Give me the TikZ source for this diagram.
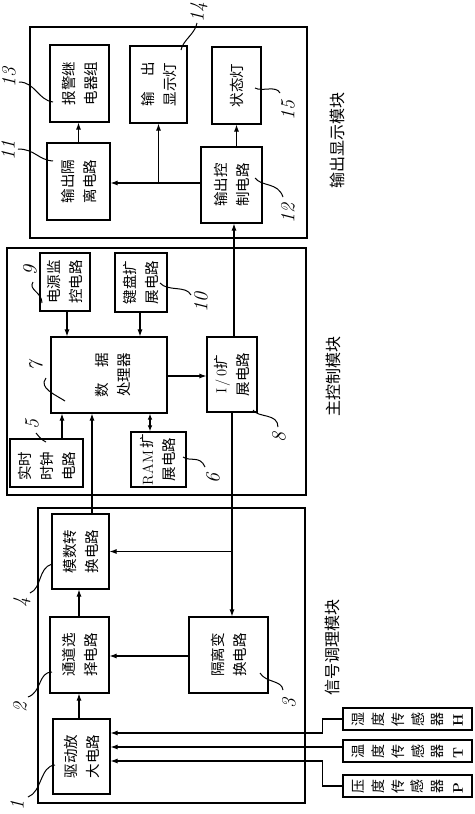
\documentclass[tikz,border=0pt]{standalone}
\usepackage{fontspec}
\newfontfamily\cjk{Noto Sans CJK SC}
\usetikzlibrary{arrows.meta}
\begin{document}
\begin{tikzpicture}[x=1pt,y=-1pt,
  frame/.style={draw,line width=1.1pt,inner sep=0pt},
  box/.style={draw,line width=1.1pt,inner sep=0pt},
  lbl/.style={rotate=90,align=center,font=\cjk\fontsize{14.5}{22}\selectfont,inner sep=0pt},
  mlbl/.style={rotate=90,font=\cjk\fontsize{16}{18}\selectfont,inner sep=0pt},
  num/.style={rotate=90,font=\itshape\fontsize{20}{20}\selectfont,inner sep=0pt},
  arr/.style={line width=1.1pt,-{Latex[length=7pt,width=5pt]}},
  darr/.style={line width=1.1pt,{Latex[length=6pt,width=4.5pt]}-{Latex[length=6pt,width=4.5pt]}},
  lead/.style={line width=1pt},
  sens/.style={draw,line width=1.1pt,inner sep=0pt,minimum width=129pt,minimum height=22pt,font=\cjk\fontsize{14}{14}\selectfont}
]
\useasboundingbox (0,0) rectangle (474,814);
% ---------- output display module ----------
\node[frame,minimum width=277pt,minimum height=211pt] (mOut) at (168.5,132.5) {};
\node[box,minimum width=59pt,minimum height=77pt] (b13) at (79.5,83.5) {};
\node[lbl] (t13) at (b13) {报警继\\电器组};
\node[box,minimum width=57pt,minimum height=77pt] (b14) at (158.5,84.5) {};
\node[lbl] (t14) at (b14) {输\hspace{1.1em}出\\显示灯};
\node[box,minimum width=49pt,minimum height=77pt] (b15) at (236.5,85.5) {};
\node[lbl] (t15) at (b15) {状态灯};
\node[box,minimum width=63pt,minimum height=77pt] (b11) at (78.5,181.5) {};
\node[lbl] (t11) at (b11) {输出隔\\离电路};
\node[box,minimum width=61pt,minimum height=76pt] (b12) at (231.5,185) {};
\node[lbl] (t12) at (b12) {输出控\\制电路};
\node[mlbl] (m1) at (337,140) {输出显示模块};
% ---------- main control module ----------
\node[frame,minimum width=299pt,minimum height=247pt] (mMain) at (156.5,371.5) {};
\node[box,minimum width=50pt,minimum height=58pt] (b9) at (65,282) {};
\node[lbl] (t9) at (b9) {电源监\\控电路};
\node[box,minimum width=52pt,minimum height=59pt] (b10) at (141,282.5) {};
\node[lbl] (t10) at (b10) {键盘扩\\展电路};
\node[box,minimum width=116pt,minimum height=76pt] (b7) at (109,375) {};
\node[lbl] (t7) at ([xshift=4pt]b7.center) {数\hspace{1.1em}据\\处理器};
\node[box,minimum width=50pt,minimum height=75pt] (b8) at (232,374.5) {};
\node[lbl] (t8) at (b8) {{\rmfamily I\,/\,0}扩\\展电路};
\node[box,minimum width=73pt,minimum height=48pt] (b5) at (46.5,463) {};
\node[lbl] (t5) at ([yshift=-3pt]b5.center) {实时\\时钟\\电路};
\node[box,minimum width=55pt,minimum height=55pt] (b6) at (158.5,459.5) {};
\node[lbl] (t6) at (b6) {{\rmfamily RAM}\,扩\\展电路};
\node[mlbl] (m2) at (333,376) {主控制模块};
% ---------- signal conditioning module ----------
\node[frame,minimum width=267pt,minimum height=295pt] (mSig) at (171.5,655.5) {};
\node[box,minimum width=57pt,minimum height=75pt] (b4) at (80.5,551.5) {};
\node[lbl] (t4) at (b4) {模数转\\换电路};
\node[box,minimum width=59pt,minimum height=76pt] (b2) at (79.5,655) {};
\node[lbl] (t2) at (b2) {通道选\\择电路};
\node[box,minimum width=79pt,minimum height=76pt] (b3) at (228.5,655) {};
\node[lbl] (t3) at (b3) {隔离变\\换电路};
\node[box,minimum width=57pt,minimum height=75pt] (b1) at (81.5,756.5) {};
\node[lbl] (t1) at (b1) {驱动放\\大电路};
\node[mlbl] (m3) at (332,647) {信号调理模块};
\node[sens] (sH) at (407.5,719) {\rotatebox{90}{湿}\hspace{7pt}\rotatebox{90}{度}\hspace{7pt}\rotatebox{90}{传}\hspace{7pt}\rotatebox{90}{感}\hspace{7pt}\rotatebox{90}{器}\hspace{10pt}\rotatebox{90}{\rmfamily\bfseries H}};
\node[sens] (sT) at (407.5,751) {\rotatebox{90}{温}\hspace{7pt}\rotatebox{90}{度}\hspace{7pt}\rotatebox{90}{传}\hspace{7pt}\rotatebox{90}{感}\hspace{7pt}\rotatebox{90}{器}\hspace{10pt}\rotatebox{90}{\rmfamily\bfseries T}};
\node[sens] (sP) at (407.5,786) {\rotatebox{90}{压}\hspace{7pt}\rotatebox{90}{度}\hspace{7pt}\rotatebox{90}{传}\hspace{7pt}\rotatebox{90}{感}\hspace{7pt}\rotatebox{90}{器}\hspace{10pt}\rotatebox{90}{\rmfamily\bfseries P}};
% ---------- connectors ----------
\draw[arr] (b11.north) -- (b11.north |- b13.south);
\draw[arr] (b15.south |- b12.north) -- (b15.south);
\draw[arr] ([yshift=2pt]b12.west) -- ([yshift=2pt]b12.west -| b11.east);
\coordinate (j14) at ([yshift=2pt]b12.west -| b14.south);
\draw[arr] (j14) -- (b14.south);
\draw[arr] (b8.north -| 234,0) -- (b12.south -| 234,0);
\draw[arr] (b8.south -| 232,0) -- (b3.north -| 232,0);
\coordinate (j4) at (b4.east -| 232,0);
\draw[arr] (j4) -- (b4.east);
\draw[arr] (b9.south -| 67,0) -- (b7.north -| 67,0);
\draw[arr] (b10.south -| 140,0) -- (b7.north -| 140,0);
\draw[arr] ([yshift=-1pt]b7.east) -- ([yshift=-1pt]b7.east -| b8.west);
\draw[arr] (b5.north -| 62,0) -- (b7.south -| 62,0);
\draw[arr] (b4.north -| 92,0) -- (b7.south -| 92,0);
\draw[darr] (b6.north -| 150,0) -- (b7.south -| 150,0);
\draw[arr] (b2.north -| 79,0) -- (b4.south -| 79,0);
\draw[arr] (b1.north -| 79,0) -- (b2.south -| 79,0);
\draw[arr] ([yshift=-1pt]b3.west) -- ([yshift=-1pt]b3.west -| b2.east);
\draw[arr] (sH.west) -- ++(-20,0) |- ([yshift=23.5pt]b1.east);
\draw[arr] ([yshift=4pt]sT.west) -- ([yshift=4pt]sT.west -| b1.east);
\draw[arr] (sP.west) -- ++(-20,0) |- ([yshift=-4.5pt]b1.east);
% ---------- reference numbers ----------
\node[num] (n13) at (9,77) {13};
\draw[lead] (19,82) .. controls (35,82) and (38,100) .. (53,102);
\node[num] (n11) at (8,150) {11};
\draw[lead] (18,149) .. controls (35,149) and (38,160) .. (53,161);
\node[num] (n14) at (199,12) {14};
\draw[lead] (197,23) .. controls (195,34) and (183,40) .. (181,50);
\node[num] (n15) at (288,110) {15};
\draw[lead] (280,93) .. controls (276,85) and (262,92) .. (255,88);
\node[num] (n12) at (288,213) {12};
\draw[lead] (283,197) .. controls (278,182) and (262,187) .. (255,178);
\node[num] (n9) at (30,270) {9};
\draw[lead] (33,282) .. controls (28,290) and (42,292) .. (42,303);
\node[num] (n10) at (201,302) {10};
\draw[lead] (191,295) .. controls (186,285) and (168,292) .. (160,283);
\node[num] (n7) at (36,366) {7};
\draw[lead] (46,378) .. controls (38,388) and (56,395) .. (65,401);
\node[num] (n5) at (32,424) {5};
\draw[lead] (36,433) .. controls (40,438) and (42,440) .. (46,442);
\node[num] (n6) at (213,478) {6};
\draw[lead] (205,467) .. controls (200,455) and (190,462) .. (183,457);
\node[num] (n8) at (279,437) {8};
\draw[lead] (278,427) .. controls (278,413) and (258,418) .. (253,410);
\node[num] (n4) at (22,602) {4};
\draw[lead] (30,593) .. controls (42,588) and (38,568) .. (52,564);
\node[num] (n2) at (20,707) {2};
\draw[lead] (28,697) .. controls (42,692) and (38,672) .. (52,672);
\node[num] (n1) at (17,805) {1};
\draw[lead] (28,797) .. controls (42,792) and (40,766) .. (55,765);
\node[num] (n3) at (289,703) {3};
\draw[lead] (283,690) .. controls (282,680) and (266,683) .. (260,673);
\end{tikzpicture}
\end{document}
